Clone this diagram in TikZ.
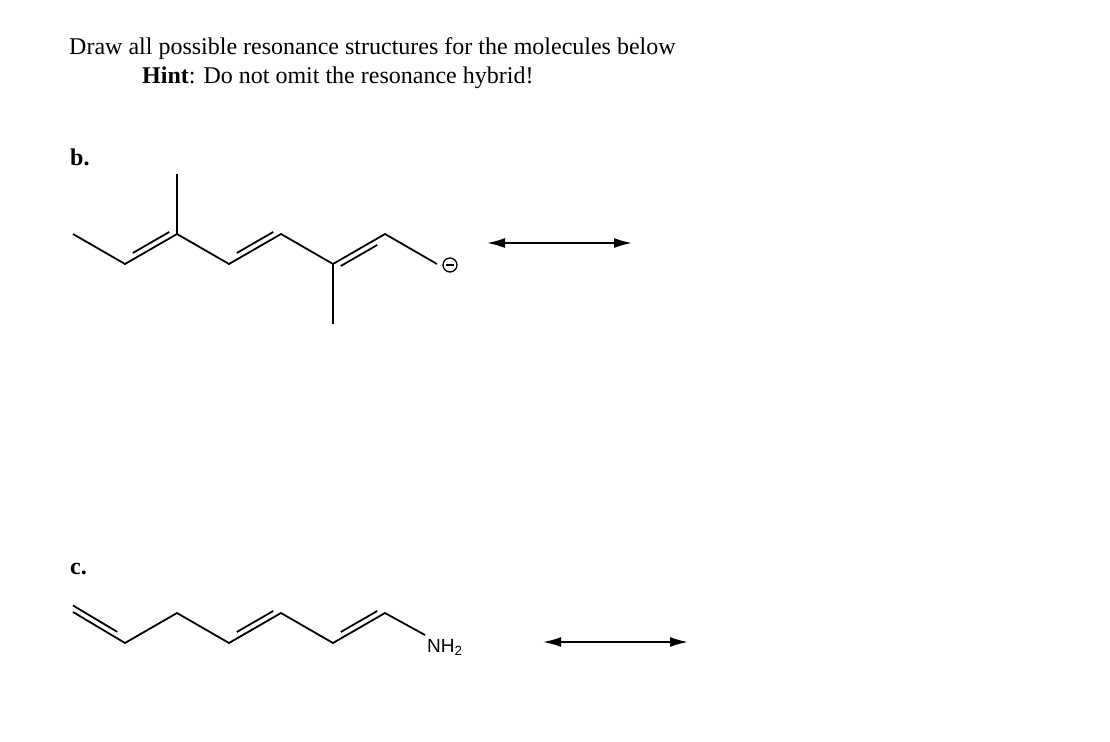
\documentclass[tikz,border=0pt]{standalone}
\usepackage{fontspec}
\setmainfont{Liberation Serif}
\newfontfamily\arial{Liberation Sans}
\usetikzlibrary{arrows.meta,calc}
\begin{document}
\begin{tikzpicture}[x=1pt,y=-1pt,
  bond/.style={line width=1.8pt},
  rarrow/.style={line width=1.8pt,{Latex[length=18pt,width=10pt]}-{Latex[length=18pt,width=10pt]}},
  txt/.style={anchor=base west,inner sep=0pt,font=\fontsize{24}{28}\selectfont}]
\useasboundingbox (0,0) rectangle (1110,741);
\node[txt] (t1) at (69,55) {Draw all possible resonance structures for the molecules below};
\node[txt] (t2) at (142,84) {\textbf{Hint}: Do not omit the resonance hybrid!};
\node[txt] (lb) at (70,165) {\textbf{b.}};
\node[txt] (lc) at (70,574) {\textbf{c.}};
% molecule b
\foreach \n/\x/\y in {b1/73/234,b2/125/264,b3/177/234,b4/229/264,b5/281/234,b6/333/264,b7/385/234,b8/437/264,bm1/177/174,bm2/333/324}
  \coordinate (\n) at (\x,\y);
\draw[bond] (b1)--(b2)--(b3)--(b4)--(b5)--(b6)--(b7)--(b8);
\draw[bond] (b3)--(bm1); \draw[bond] (b6)--(bm2);
\draw[bond] ($(b2)!0.15!(b3)+(0,-6.5)$)--($(b2)!0.85!(b3)+(0,-6.5)$);
\draw[bond] ($(b4)!0.15!(b5)+(0,-6.5)$)--($(b4)!0.85!(b5)+(0,-6.5)$);
\draw[bond] ($(b6)!0.15!(b7)+(0,6.5)$)--($(b6)!0.85!(b7)+(0,6.5)$);
\node[circle,draw,line width=1.3pt,minimum size=14pt,inner sep=0pt] (chg) at (450,265) {};
\draw[line width=1.5pt] ($(chg.center)+(-4,0)$)--($(chg.center)+(4,0)$);
\coordinate (ab1) at (487,243); \coordinate (ab2) at (632,243);
\draw[rarrow] (ab1)--(ab2);
% molecule c
\foreach \n/\x/\y in {c1/73/612,c2/125/643,c3/177/613,c4/229/643,c5/281/613,c6/333/643,c7/385/613,c8/425/635}
  \coordinate (\n) at (\x,\y);
\draw[bond] (c1)--(c2)--(c3)--(c4)--(c5)--(c6)--(c7)--(c8);
\draw[bond] ($(c1)!0.0!(c2)+(0,-6.5)$)--($(c1)!0.85!(c2)+(0,-6.5)$);
\draw[bond] ($(c4)!0.15!(c5)+(0,-6.5)$)--($(c4)!0.85!(c5)+(0,-6.5)$);
\draw[bond] ($(c6)!0.15!(c7)+(0,-6.5)$)--($(c6)!0.85!(c7)+(0,-6.5)$);
\node[anchor=base west,inner sep=0pt,font=\arial\fontsize{19}{22}\selectfont] (nh2) at (427,652) {NH\textsubscript{2}};
\coordinate (ac1) at (543,642); \coordinate (ac2) at (688,642);
\draw[rarrow] (ac1)--(ac2);
\end{tikzpicture}
\end{document}
